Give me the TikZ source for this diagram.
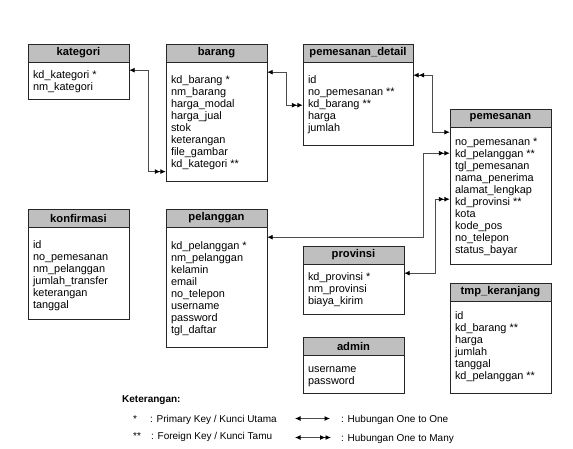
\documentclass[tikz,border=0pt]{standalone}
\usepackage{fontspec}
\setmainfont{Liberation Sans}
\usetikzlibrary{positioning,arrows.meta,shadows}

\tikzset{%
  every node/.style={
    inner sep=0pt
  },
  bayang/.style={
    drop shadow={shadow xshift=1pt,shadow yshift=-1pt,fill=black!40,opacity=1}
  },
  judul/.style={
    draw=black!85, fill=black!25, bayang,
    font=\fontsize{11.2}{12}\selectfont\bfseries,
    minimum width=101pt, minimum height=18pt
  },
  isi/.style={
    draw=black!85, fill=white, bayang,
    minimum width=101pt
  },
  kolom/.style={
    align=left, font=\fontsize{10.9}{12}\selectfont
  },
  ket/.style={
    anchor=base west, font=\fontsize{10}{12}\selectfont
  },
  relasi/.style={
    draw=black!70, line width=0.9pt
  },
  satu/.tip={Latex[length=5.5pt,width=5pt,color=black]},
  banyak/.tip={Latex[length=5.5pt,width=5pt,color=black]Latex[length=5.5pt,width=5pt,color=black]}
}

\begin{document}
\begin{tikzpicture}[x=1pt,y=-1pt]
      \useasboundingbox (0,0) rectangle (573,448);
      % tabel
      \node[judul] at (78.5,53) (kategori) {kategori};
      \node[isi, minimum height=37pt, below=0pt of kategori] (kategori-isi) {};
      \node[kolom, below right=8.5pt and 5pt of kategori-isi.north west] {kd\_kategori *\\nm\_kategori};

      \node[judul] at (216.5,53) (barang) {barang};
      \node[isi, minimum height=119pt, below=0pt of barang] (barang-isi) {};
      \node[kolom, below right=13pt and 5pt of barang-isi.north west] {kd\_barang *\\nm\_barang\\harga\_modal\\harga\_jual\\stok\\keterangan\\file\_gambar\\kd\_kategori **};

      \node[judul, minimum width=110pt] at (358,53) (detail) {pemesanan\_detail};
      \node[isi, minimum width=110pt, minimum height=83pt, below=0pt of detail] (detail-isi) {};
      \node[kolom, below right=13pt and 5pt of detail-isi.north west] {id\\no\_pemesanan **\\kd\_barang **\\harga\\jumlah};

      \node[judul] at (500.5,118) (pemesanan) {pemesanan};
      \node[isi, minimum height=137pt, below=0pt of pemesanan] (pemesanan-isi) {};
      \node[kolom, below right=10.5pt and 5pt of pemesanan-isi.north west] {no\_pemesanan *\\kd\_pelanggan **\\tgl\_pemesanan\\nama\_penerima\\alamat\_lengkap\\kd\_provinsi **\\kota\\kode\_pos\\no\_telepon\\status\_bayar};

      \node[judul] at (78.5,218) (konfirmasi) {konfirmasi};
      \node[isi, minimum height=92pt, below=0pt of konfirmasi] (konfirmasi-isi) {};
      \node[kolom, below right=12.8pt and 5pt of konfirmasi-isi.north west] {id\\no\_pemesanan\\nm\_pelanggan\\jumlah\_transfer\\keterangan\\tanggal};

      \node[judul] at (216.5,218) (pelanggan) {pelanggan};
      \node[isi, minimum height=120pt, below=0pt of pelanggan] (pelanggan-isi) {};
      \node[kolom, below right=14.5pt and 5pt of pelanggan-isi.north west] {kd\_pelanggan *\\nm\_pelanggan\\kelamin\\email\\no\_telepon\\username\\password\\tgl\_daftar};

      \node[judul] at (353.5,255) (provinsi) {provinsi};
      \node[isi, minimum height=50pt, below=0pt of provinsi] (provinsi-isi) {};
      \node[kolom, below right=8.5pt and 5pt of provinsi-isi.north west] {kd\_provinsi *\\nm\_provinsi\\biaya\_kirim};

      \node[judul] at (500.5,292) (keranjang) {tmp\_keranjang};
      \node[isi, minimum height=92pt, below=0pt of keranjang] (keranjang-isi) {};
      \node[kolom, below right=10.5pt and 5pt of keranjang-isi.north west] {id\\kd\_barang **\\harga\\jumlah\\tanggal\\kd\_pelanggan **};

      \node[judul] at (353.5,346) (admin) {admin};
      \node[isi, minimum height=38pt, below=0pt of admin] (admin-isi) {};
      \node[kolom, below right=11.3pt and 5pt of admin-isi.north west] {username\\password};

      % relasi
      \draw[relasi, satu-banyak] ([yshift=-8pt]kategori-isi.north east) -- ++(19,0) |- ([yshift=10pt]barang-isi.south west);
      \draw[relasi, satu-banyak] ([yshift=-10pt]barang-isi.north east) -- ++(19,0) |- ([yshift=-43pt]detail-isi.north west);
      \draw[relasi, banyak-satu] ([yshift=-13pt]detail-isi.north east) -- ++(19,0) |- ([yshift=-5pt]pemesanan-isi.north west);
      \draw[relasi, satu-banyak] ([yshift=-10pt]pelanggan-isi.north east) -| ++(156,-84) -- ([yshift=-26pt]pemesanan-isi.north west);
      \draw[relasi, satu-banyak] ([yshift=-9pt]provinsi-isi.north east) -| ++(31,-74) -- ([yshift=-72pt]pemesanan-isi.north west);

      % keterangan
      \node[ket, font=\fontsize{10}{12}\selectfont\bfseries] at (122,402.5) (keterangan) {Keterangan:};
      \node[ket] at (133,422) (pk) {*};
      \node[ket] at (150,422) (pk-teks) {: Primary Key / Kunci Utama};
      \node[ket] at (133,439) (fk) {**};
      \node[ket] at (151,439) (fk-teks) {: Foreign Key / Kunci Tamu};
      \coordinate (satu-a) at (295,418.5);
      \coordinate (satu-b) at (330,418.5);
      \draw[relasi, satu-satu] (satu-a) -- (satu-b);
      \node[ket] at (341,422.5) (satu-teks) {: Hubungan One to One};
      \coordinate (banyak-a) at (295,437.5);
      \coordinate (banyak-b) at (331,437.5);
      \draw[relasi, satu-banyak] (banyak-a) -- (banyak-b);
      \node[ket] at (341,441) (banyak-teks) {: Hubungan One to Many};
    \end{tikzpicture}
\end{document}
